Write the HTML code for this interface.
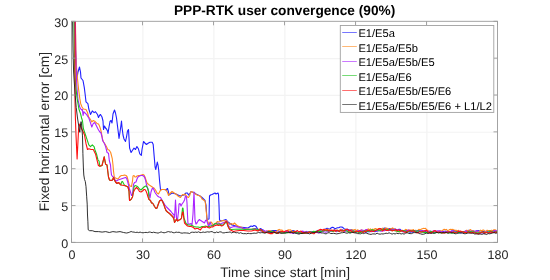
<!DOCTYPE html>
<html><head><meta charset="utf-8"><style>
html,body{margin:0;padding:0;background:#fff;}
svg{display:block;}
text{font-family:"Liberation Sans",Arial,sans-serif;text-rendering:geometricPrecision;}
</style></head><body>
<svg width="550" height="280" viewBox="0 0 550 280">
<rect x="0" y="0" width="550" height="280" fill="#ffffff"/>
<g stroke="#f3f3f3" stroke-width="1.2" fill="none">
<line x1="142.90" y1="21.3" x2="142.90" y2="242.4"/>
<line x1="213.90" y1="21.3" x2="213.90" y2="242.4"/>
<line x1="284.90" y1="21.3" x2="284.90" y2="242.4"/>
<line x1="355.90" y1="21.3" x2="355.90" y2="242.4"/>
<line x1="426.90" y1="21.3" x2="426.90" y2="242.4"/>
<line x1="71.5" y1="205.95" x2="497.5" y2="205.95"/>
<line x1="71.5" y1="169.10" x2="497.5" y2="169.10"/>
<line x1="71.5" y1="132.25" x2="497.5" y2="132.25"/>
<line x1="71.5" y1="95.40" x2="497.5" y2="95.40"/>
<line x1="71.5" y1="58.55" x2="497.5" y2="58.55"/>
</g>
<defs><clipPath id="ax"><rect x="71.5" y="21.3" width="426.0" height="221.1"/></clipPath></defs>
<g fill="none" stroke-width="1.1" stroke-linejoin="round" stroke-linecap="round" clip-path="url(#ax)">
<polyline stroke="#2020ff" points="74.5,21.0 75.5,50.0 76.5,70.0 77.0,78.0 78.0,72.0 79.5,67.0 80.5,72.0 81.0,78.0 83.0,80.5 84.3,87.6 85.2,94.8 86.0,101.9 87.9,103.7 88.8,109.0 90.5,114.4 92.3,110.9 94.1,112.6 95.5,111.7 97.5,114.5 98.5,117.5 99.5,115.5 100.5,114.5 102.0,117.0 103.0,121.0 103.5,129.5 104.5,126.0 105.5,128.0 106.5,129.0 107.5,131.0 108.0,133.5 109.0,127.0 110.0,121.5 111.0,120.5 112.0,123.0 113.0,114.0 114.5,110.0 115.5,113.0 116.5,118.0 117.5,126.0 118.5,134.0 119.0,138.5 120.0,132.0 121.0,125.0 121.5,121.0 122.0,127.0 123.0,135.0 124.0,139.0 125.5,141.5 126.5,137.0 127.5,131.0 128.5,129.5 129.6,148.1 131.1,152.5 132.5,150.3 134.0,148.1 135.5,149.5 136.9,146.6 138.4,148.8 139.8,153.9 141.3,155.4 142.0,149.5 143.5,141.5 144.9,143.0 146.4,144.5 148.5,143.0 150.0,142.3 152.2,142.3 153.2,144.5 154.1,155.4 155.1,167.0 155.8,169.5 156.5,166.0 157.3,162.0 158.0,165.0 158.7,170.0 159.5,180.0 160.0,185.0 160.5,189.8 161.5,189.5 164.5,189.5 166.0,190.0 167.0,189.0 167.5,188.5 168.5,192.0 169.0,195.0 172.0,193.0 176.0,194.0 180.0,196.0 184.0,195.0 186.0,193.0 187.5,193.0 188.5,195.0 190.0,193.5 191.0,191.5 192.0,192.0 194.0,192.5 196.0,194.0 198.0,195.0 200.0,196.0 202.0,197.5 203.5,199.0 205.0,200.5 206.0,205.0 207.0,219.5 209.0,219.0 209.5,196.0 210.5,195.0 212.0,194.5 214.0,193.5 215.0,193.0 216.0,194.0 217.0,193.5 218.0,193.0 218.5,194.5 219.0,205.0 219.5,220.0 221.0,221.0 223.0,220.5 226.0,219.5 228.0,222.0 232.0,225.0 240.0,227.0 248.0,228.0 251.0,226.0 252.5,226.5 254.0,225.5 255.5,226.0 256.5,227.0 257.5,229.0 259.0,230.5 260.5,228.5 262.0,229.5 265.0,231.5 269.0,231.5 273.0,230.5 277.0,230.5 281.0,232.0 285.0,232.0 289.0,232.0 293.0,230.5 297.0,232.0 301.0,232.5 305.0,232.0 306.3,231.4 307.6,232.3 308.9,232.7 310.2,232.0 311.5,232.0 312.8,231.9 314.1,232.1 315.4,232.4 316.7,231.2 318.0,230.4 319.3,231.2 320.6,230.9 321.9,231.3 323.2,230.1 324.5,229.2 325.8,229.1 327.1,228.2 328.4,228.9 329.7,229.3 331.0,228.0 332.3,227.2 333.6,227.6 334.9,228.6 336.2,228.2 337.5,227.7 338.8,227.7 340.1,227.0 341.4,227.0 342.7,227.4 344.0,228.7 345.3,229.1 346.6,229.3 347.9,229.4 349.2,230.0 350.5,230.0 351.8,229.6 353.1,230.8 354.4,231.1 355.7,231.4 357.0,230.8 358.3,231.9 359.6,232.3 360.9,231.2 362.2,230.9 363.5,231.4 364.8,231.6 366.1,232.2 367.4,231.5 368.7,231.8 370.0,231.6 371.3,230.9 372.6,230.9 373.9,231.4 375.2,231.6 376.5,231.1 377.8,231.0 379.1,229.2 380.4,228.5 381.7,229.1 383.0,228.7 384.3,228.1 385.6,228.3 386.9,228.8 388.2,229.0 389.5,228.6 390.8,228.5 392.1,228.6 393.4,229.1 394.7,229.0 396.0,229.4 397.3,229.9 398.6,229.4 399.9,229.2 401.2,230.3 402.5,231.6 403.8,231.6 405.1,231.2 406.4,230.6 407.7,230.9 409.0,231.9 410.3,232.1 411.6,231.8 412.9,232.2 414.2,231.3 415.5,231.3 416.8,232.1 418.1,231.9 419.4,231.5 420.7,231.0 422.0,231.2 423.3,232.1 424.6,230.9 425.9,231.7 427.2,232.2 428.5,232.7 429.8,232.7 431.1,232.9 432.4,232.5 433.7,232.3 435.0,232.0 436.3,231.1 437.6,232.1 438.9,232.1 440.2,231.4 441.5,231.6 442.8,231.6 444.1,231.4 445.4,231.3 446.7,231.6 448.0,231.9 449.3,232.1 450.6,231.9 451.9,231.0 453.2,230.8 454.5,230.6 455.8,231.3 457.1,232.1 458.4,232.5 459.7,232.8 461.0,233.0 462.3,232.1 463.6,232.6 464.9,232.6 466.2,231.5 467.5,230.8 468.8,230.3 470.1,231.4 471.4,231.1 472.7,230.7 474.0,231.3 475.3,231.2 476.6,230.7 477.9,230.5 479.2,231.1 480.5,230.8 481.8,230.8 483.1,231.6 484.4,231.6 485.7,231.3 487.0,231.5 488.3,230.8 489.6,231.0 490.9,231.2 492.2,230.9 493.5,230.5 494.8,231.8 496.1,231.8 497.0,231.3"/>
<polyline stroke="#ff8a1e" points="75.4,21.0 76.0,55.0 76.6,68.0 77.5,78.7 78.6,89.4 79.8,98.4 80.7,103.7 82.0,107.0 83.4,109.0 86.0,109.5 87.5,112.5 88.6,116.8 89.6,118.3 91.1,120.5 91.8,121.9 93.3,120.5 94.7,121.2 96.2,122.6 97.0,123.5 98.5,124.0 99.5,126.0 100.5,129.0 101.5,133.0 102.5,139.0 103.5,142.0 105.0,144.0 106.4,146.6 107.8,149.5 109.3,150.3 110.7,152.5 112.2,158.3 113.0,165.0 113.5,171.0 114.0,175.0 114.5,177.5 115.5,178.0 116.5,178.5 118.0,179.0 119.5,177.0 120.5,176.0 121.5,175.5 123.0,175.5 124.5,175.0 126.0,175.5 127.0,176.5 128.0,180.0 129.0,184.0 130.0,186.0 131.5,186.5 132.5,181.0 133.0,176.0 134.0,175.5 135.0,177.0 136.0,177.0 137.0,176.0 138.5,175.5 140.0,175.5 141.5,175.0 143.0,174.5 144.0,175.0 145.0,177.0 146.0,180.0 147.0,183.0 148.5,184.5 150.0,185.5 151.5,186.5 153.0,187.5 154.0,188.0 155.5,190.0 157.0,193.0 158.5,194.0 160.0,191.0 161.5,189.5 164.5,189.5 166.0,190.0 167.5,192.5 168.5,195.5 169.5,194.0 171.0,192.5 172.0,191.5 173.5,192.5 175.0,193.5 176.5,194.5 178.0,196.0 179.5,197.0 180.5,197.5 181.5,196.0 182.5,194.5 184.0,195.0 185.0,194.0 186.0,195.5 187.5,197.0 188.5,197.5 189.5,196.0 190.5,192.5 191.5,191.5 192.5,192.0 194.0,193.0 195.5,194.0 197.0,195.0 198.5,195.5 200.0,196.0 201.0,197.0 202.0,199.0 203.5,200.0 205.0,201.0 205.5,204.0 206.0,209.0 206.5,214.0 207.0,219.0 208.0,222.0 209.0,224.5 210.0,223.0 211.0,222.0 212.0,223.0 213.0,225.0 214.5,224.0 216.0,223.0 217.5,221.5 219.0,222.0 221.0,221.0 223.0,220.5 225.0,221.0 226.5,220.5 227.5,222.0 229.0,224.0 230.0,224.5 231.5,223.5 233.0,224.5 234.5,223.0 235.5,224.0 237.0,225.5 239.0,226.5 241.0,227.0 243.0,228.5 247.0,229.0 251.0,229.5 255.0,228.5 256.1,230.0 257.2,230.9 258.3,229.5 259.4,228.9 260.5,230.4 261.6,231.2 262.7,231.6 263.8,230.9 264.9,231.3 266.0,231.5 267.1,231.5 268.2,230.6 269.3,230.6 270.4,230.6 271.5,231.4 272.6,232.5 273.7,233.1 274.8,232.4 275.9,231.8 277.0,231.0 278.1,230.0 279.2,229.4 280.3,230.1 281.4,230.1 282.5,230.3 283.6,231.7 284.7,231.6 285.8,231.6 286.9,230.9 288.0,229.9 289.1,230.1 290.2,229.7 291.3,230.4 292.4,232.0 293.5,232.2 294.6,231.1 295.7,232.2 296.8,232.6 297.9,232.7 299.0,233.2 300.1,233.2 301.2,233.2 302.3,232.1 303.4,233.0 304.5,233.5 305.6,231.8 306.7,232.3 307.8,232.4 308.9,231.9 310.0,231.7 311.1,231.6 312.2,232.5 313.3,231.9 314.4,232.3 315.5,231.4 316.6,232.0 317.7,232.4 318.8,231.5 319.9,231.1 321.0,231.7 322.1,231.5 323.2,230.8 324.3,229.8 325.4,229.4 326.5,230.1 327.6,229.2 328.7,230.5 329.8,229.7 330.9,230.8 332.0,230.0 333.1,231.1 334.2,231.2 335.3,230.7 336.4,230.5 337.5,230.7 338.6,230.6 339.7,229.9 340.8,229.3 341.9,229.6 343.0,230.9 344.1,230.8 345.2,229.5 346.3,230.5 347.4,230.9 348.5,231.6 349.6,230.4 350.7,230.9 351.8,229.7 352.9,230.3 354.0,229.8 355.1,229.4 356.2,230.8 357.3,229.8 358.4,230.2 359.5,231.2 360.6,230.4 361.7,229.8 362.8,231.0 363.9,230.6 365.0,231.0 366.1,229.6 367.2,229.5 368.3,228.9 369.4,229.8 370.5,228.8 371.6,230.3 372.7,229.0 373.8,229.8 374.9,228.6 376.0,228.5 377.1,229.7 378.2,228.8 379.3,228.4 380.4,229.3 381.5,229.1 382.6,228.2 383.7,229.8 384.8,228.8 385.9,228.0 387.0,228.2 388.1,229.0 389.2,229.8 390.3,228.7 391.4,228.7 392.5,227.9 393.6,228.5 394.7,229.6 395.8,230.2 396.9,231.1 398.0,231.3 399.1,231.7 400.2,231.6 401.3,231.1 402.4,230.2 403.5,230.7 404.6,230.2 405.7,229.4 406.8,229.7 407.9,230.9 409.0,229.9 410.1,230.3 411.2,230.1 412.3,230.3 413.4,229.5 414.5,231.0 415.6,230.2 416.7,230.6 417.8,230.4 418.9,229.3 420.0,229.9 421.1,229.3 422.2,228.8 423.3,228.4 424.4,228.5 425.5,228.4 426.6,229.7 427.7,230.2 428.8,231.7 429.9,232.4 431.0,233.1 432.1,231.6 433.2,231.3 434.3,230.6 435.4,231.0 436.5,231.4 437.6,232.0 438.7,232.1 439.8,231.1 440.9,230.9 442.0,231.1 443.1,229.9 444.2,229.3 445.3,229.8 446.4,229.4 447.5,230.6 448.6,230.2 449.7,229.6 450.8,229.4 451.9,229.5 453.0,229.4 454.1,230.1 455.2,230.4 456.3,230.2 457.4,230.9 458.5,230.3 459.6,231.6 460.7,232.5 461.8,232.5 462.9,231.8 464.0,231.5 465.1,231.6 466.2,230.3 467.3,230.4 468.4,230.8 469.5,230.1 470.6,229.5 471.7,230.9 472.8,230.7 473.9,230.9 475.0,232.0 476.1,231.9 477.2,231.1 478.3,232.2 479.4,231.5 480.5,230.2 481.6,231.0 482.7,230.1 483.8,230.0 484.9,231.3 486.0,231.6 487.1,230.2 488.2,230.5 489.3,230.5 490.4,230.7 491.5,230.2 492.6,230.8 493.7,229.9 494.8,229.8 495.9,230.0 497.0,231.5"/>
<polyline stroke="#aa22ff" points="75.3,21.0 75.8,55.0 76.1,68.0 76.8,85.9 78.0,100.0 79.8,107.3 81.5,110.0 82.4,109.5 83.1,115.4 83.8,111.7 84.5,112.5 86.7,114.6 88.9,118.3 90.4,122.6 91.8,127.0 93.3,123.4 94.7,122.6 95.5,124.0 96.5,126.0 98.0,129.0 99.5,131.5 101.0,133.0 102.0,137.0 102.7,140.8 104.2,143.0 105.6,146.6 107.1,152.5 108.5,153.2 109.3,160.5 110.5,165.0 111.0,171.0 111.5,175.0 112.5,176.5 113.5,177.0 114.5,179.0 115.5,180.5 116.5,181.0 118.0,180.0 119.5,179.5 121.0,179.0 122.5,178.5 124.0,178.0 125.5,177.5 126.5,178.0 127.5,181.0 128.5,185.0 129.5,189.0 130.5,192.0 131.5,195.5 132.5,194.0 133.5,184.5 134.5,182.5 136.0,182.0 137.0,179.0 138.0,177.0 139.5,176.0 141.0,175.5 142.5,175.5 143.5,176.0 144.5,177.0 145.5,180.0 146.5,185.0 148.0,189.0 149.0,193.0 150.0,198.0 151.0,192.0 152.0,189.0 153.0,188.0 154.0,190.0 155.0,192.5 156.0,194.0 157.5,196.0 159.0,197.0 160.5,197.5 162.0,200.0 163.5,202.5 165.0,205.0 166.5,207.0 168.0,208.5 169.5,210.0 171.0,211.5 172.5,213.5 174.0,215.0 174.5,218.0 175.5,200.0 176.5,218.0 177.5,219.5 178.5,212.0 179.0,204.0 180.0,203.5 181.0,206.0 182.0,204.0 183.5,202.0 184.5,200.0 185.5,196.0 186.5,197.0 187.0,203.0 187.5,215.0 188.0,224.0 189.5,224.0 191.0,223.5 192.0,225.0 193.0,214.0 194.0,192.0 195.0,220.0 196.0,224.0 197.0,223.0 198.0,221.0 199.5,219.5 200.0,220.0 201.5,221.0 203.0,222.0 204.5,223.0 205.5,220.5 206.5,220.0 207.5,223.0 208.5,226.5 209.5,224.0 210.0,222.0 211.0,224.5 212.0,226.0 213.5,225.5 215.0,224.0 216.5,223.5 218.0,223.0 219.5,223.5 221.0,224.0 222.5,223.0 224.0,222.5 225.5,222.0 226.5,221.0 227.5,223.5 228.5,225.5 229.5,227.0 231.0,227.5 234.0,226.5 237.0,227.0 240.0,227.5 244.0,228.5 248.0,229.5 252.0,229.5 255.0,228.5 256.2,228.6 257.4,229.4 258.6,229.7 259.8,230.4 261.0,231.1 262.2,230.5 263.4,230.0 264.6,231.4 265.8,231.0 267.0,230.8 268.2,232.2 269.4,232.0 270.6,232.6 271.8,232.2 273.0,232.3 274.2,231.4 275.4,231.9 276.6,232.6 277.8,232.4 279.0,232.6 280.2,232.7 281.4,231.5 282.6,232.2 283.8,232.3 285.0,231.7 286.2,230.9 287.4,232.1 288.6,232.0 289.8,232.4 291.0,233.0 292.2,233.0 293.4,233.5 294.6,232.7 295.8,233.0 297.0,232.5 298.2,233.2 299.4,233.5 300.6,232.2 301.8,231.4 303.0,231.1 304.2,232.4 305.4,232.1 306.6,232.3 307.8,231.8 309.0,231.9 310.2,231.7 311.4,231.5 312.6,231.8 313.8,231.9 315.0,232.5 316.2,232.4 317.4,232.8 318.6,232.8 319.8,233.0 321.0,232.4 322.2,231.0 323.4,231.5 324.6,232.0 325.8,232.2 327.0,231.7 328.2,231.7 329.4,230.7 330.6,231.3 331.8,231.2 333.0,230.5 334.2,229.7 335.4,230.8 336.6,231.7 337.8,230.4 339.0,231.1 340.2,230.8 341.4,230.0 342.6,229.9 343.8,230.7 345.0,231.5 346.2,230.3 347.4,230.7 348.6,229.9 349.8,230.7 351.0,230.5 352.2,231.4 353.4,232.2 354.6,231.8 355.8,232.5 357.0,231.6 358.2,230.6 359.4,231.1 360.6,230.2 361.8,230.0 363.0,230.2 364.2,230.8 365.4,230.1 366.6,229.5 367.8,230.7 369.0,230.3 370.2,231.3 371.4,231.8 372.6,231.0 373.8,230.6 375.0,230.5 376.2,230.7 377.4,230.7 378.6,230.6 379.8,230.7 381.0,231.3 382.2,230.9 383.4,230.4 384.6,230.7 385.8,229.9 387.0,229.6 388.2,230.7 389.4,230.5 390.6,230.5 391.8,229.4 393.0,229.5 394.2,230.0 395.4,229.2 396.6,229.9 397.8,230.5 399.0,229.7 400.2,230.4 401.4,230.6 402.6,231.2 403.8,230.8 405.0,231.4 406.2,231.7 407.4,230.5 408.6,229.9 409.8,230.7 411.0,231.8 412.2,231.0 413.4,231.0 414.6,231.2 415.8,230.8 417.0,230.6 418.2,230.5 419.4,230.5 420.6,230.9 421.8,230.6 423.0,230.6 424.2,231.4 425.4,230.5 426.6,231.0 427.8,231.7 429.0,231.2 430.2,230.8 431.4,231.8 432.6,231.2 433.8,230.8 435.0,231.0 436.2,231.7 437.4,230.9 438.6,230.9 439.8,230.9 441.0,231.9 442.2,231.7 443.4,232.4 444.6,231.5 445.8,231.2 447.0,231.7 448.2,232.5 449.4,232.1 450.6,231.4 451.8,230.7 453.0,231.2 454.2,230.8 455.4,231.8 456.6,232.4 457.8,231.5 459.0,231.1 460.2,232.0 461.4,232.1 462.6,232.6 463.8,231.9 465.0,231.1 466.2,230.9 467.4,231.8 468.6,231.3 469.8,231.2 471.0,231.2 472.2,231.2 473.4,231.2 474.6,232.3 475.8,231.4 477.0,230.5 478.2,231.9 479.4,232.6 480.6,233.2 481.8,232.5 483.0,233.1 484.2,233.4 485.4,232.1 486.6,232.5 487.8,232.8 489.0,232.7 490.2,232.3 491.4,231.7 492.6,231.4 493.8,231.0 495.0,230.4 496.2,231.1 497.0,230.9"/>
<polyline stroke="#1fc41f" points="74.0,21.0 74.5,68.0 75.7,85.9 77.1,98.4 78.9,109.0 80.7,114.4 81.6,118.0 82.5,121.0 83.4,128.7 85.2,134.0 87.0,139.4 88.8,144.8 90.5,146.6 92.3,144.8 94.1,146.6 95.0,150.0 96.5,154.0 98.0,160.0 99.1,161.2 99.8,166.3 102.0,165.5 104.2,156.8 105.6,164.1 107.0,165.0 108.5,177.0 109.5,180.0 111.0,180.5 112.5,180.0 113.5,177.5 114.5,180.0 115.5,182.0 117.0,183.5 118.5,182.5 119.5,183.5 121.0,185.0 121.5,182.0 122.5,181.5 123.5,183.5 124.5,185.2 126.0,186.0 128.0,187.0 129.0,191.0 129.5,200.5 131.0,199.5 132.5,197.0 134.0,187.0 135.0,185.5 136.5,186.0 138.0,187.0 139.5,189.0 141.0,190.0 142.5,188.5 144.0,187.0 145.5,186.0 146.5,186.5 147.5,188.0 148.5,191.5 149.0,199.5 150.5,200.5 151.5,203.0 152.5,203.0 153.5,204.5 154.5,206.5 156.0,208.5 157.0,208.0 158.0,205.0 159.5,201.0 161.0,200.0 162.0,200.5 163.0,202.5 164.0,205.0 165.0,208.0 166.0,210.5 167.5,212.0 169.5,213.5 171.5,215.5 173.0,217.0 174.0,219.5 174.5,222.5 175.5,221.0 176.5,219.0 177.5,221.0 179.0,220.0 180.5,219.5 181.5,218.0 182.5,208.0 183.0,208.0 184.0,218.0 186.0,223.5 188.0,225.0 190.0,225.0 192.0,225.5 194.0,226.5 196.0,227.0 198.0,227.0 200.0,227.5 202.0,226.5 204.0,226.5 205.5,226.0 207.0,226.5 208.5,227.0 210.0,226.0 211.5,226.0 213.0,225.5 214.5,224.0 216.0,223.5 217.5,224.5 219.0,224.0 220.5,224.5 222.0,225.5 223.5,224.5 225.0,223.0 226.5,222.0 227.5,225.0 229.0,228.0 231.0,229.5 235.0,229.3 240.0,229.0 245.0,229.5 250.0,229.2 255.0,229.0 256.2,229.2 257.4,229.3 258.6,229.9 259.8,230.0 261.0,230.1 262.2,230.8 263.4,231.9 264.6,232.4 265.8,232.7 267.0,232.1 268.2,232.2 269.4,231.9 270.6,231.5 271.8,231.2 273.0,231.2 274.2,232.2 275.4,232.7 276.6,232.9 277.8,233.1 279.0,232.3 280.2,232.1 281.4,232.3 282.6,232.7 283.8,233.0 285.0,233.3 286.2,232.3 287.4,232.5 288.6,232.7 289.8,232.6 291.0,232.1 292.2,232.2 293.4,231.7 294.6,232.6 295.8,233.1 297.0,232.9 298.2,232.4 299.4,233.0 300.6,232.9 301.8,233.3 303.0,233.4 304.2,233.0 305.4,232.7 306.6,232.7 307.8,232.5 309.0,231.9 310.2,231.8 311.4,232.5 312.6,231.7 313.8,231.2 315.0,231.7 316.2,231.4 317.4,231.5 318.6,231.4 319.8,231.1 321.0,231.8 322.2,231.0 323.4,230.8 324.6,230.5 325.8,230.8 327.0,230.6 328.2,230.5 329.4,231.0 330.6,230.8 331.8,230.9 333.0,231.5 334.2,230.8 335.4,230.2 336.6,230.2 337.8,230.9 339.0,231.1 340.2,230.7 341.4,230.6 342.6,230.4 343.8,230.6 345.0,230.2 346.2,230.8 347.4,231.5 348.6,232.1 349.8,232.1 351.0,232.4 352.2,231.3 353.4,231.1 354.6,231.9 355.8,232.1 357.0,231.8 358.2,232.3 359.4,232.2 360.6,232.5 361.8,231.8 363.0,231.2 364.2,231.2 365.4,230.7 366.6,230.8 367.8,231.5 369.0,231.1 370.2,230.3 371.4,229.9 372.6,229.8 373.8,230.6 375.0,230.4 376.2,230.2 377.4,229.8 378.6,230.8 379.8,230.6 381.0,230.2 382.2,229.7 383.4,229.4 384.6,229.3 385.8,230.0 387.0,229.7 388.2,229.4 389.4,229.8 390.6,229.7 391.8,230.8 393.0,230.2 394.2,230.4 395.4,230.9 396.6,230.8 397.8,231.6 399.0,231.4 400.2,231.0 401.4,231.0 402.6,230.6 403.8,230.8 405.0,230.7 406.2,231.6 407.4,232.0 408.6,231.8 409.8,231.0 411.0,230.9 412.2,230.8 413.4,230.6 414.6,230.6 415.8,231.5 417.0,231.0 418.2,230.6 419.4,231.5 420.6,231.6 421.8,232.3 423.0,231.9 424.2,232.4 425.4,232.4 426.6,232.6 427.8,232.6 429.0,232.4 430.2,231.6 431.4,231.4 432.6,232.2 433.8,232.7 435.0,233.1 436.2,232.5 437.4,232.5 438.6,232.8 439.8,232.7 441.0,232.9 442.2,232.6 443.4,232.6 444.6,232.7 445.8,232.1 447.0,232.7 448.2,233.1 449.4,232.1 450.6,232.8 451.8,233.1 453.0,233.0 454.2,232.0 455.4,232.6 456.6,231.9 457.8,232.6 459.0,232.6 460.2,231.8 461.4,231.5 462.6,231.9 463.8,232.1 465.0,232.4 466.2,232.9 467.4,232.2 468.6,231.5 469.8,232.3 471.0,231.5 472.2,232.3 473.4,231.7 474.6,232.3 475.8,232.6 477.0,232.9 478.2,232.7 479.4,233.0 480.6,232.2 481.8,232.4 483.0,232.0 484.2,232.6 485.4,232.8 486.6,232.5 487.8,232.4 489.0,231.6 490.2,231.1 491.4,231.7 492.6,231.8 493.8,232.4 495.0,232.5 496.2,231.8 497.0,231.7"/>
<polyline stroke="#ff1010" points="75.1,21.0 75.0,68.0 75.0,100.0 75.4,118.0 76.0,135.0 77.1,159.0 78.6,128.7 79.8,124.0 81.6,128.7 83.4,132.3 84.5,135.0 86.0,143.7 87.5,149.5 88.9,148.8 91.1,149.5 93.3,149.5 95.5,153.9 96.9,159.7 98.4,165.5 99.8,166.3 102.0,165.5 104.2,156.8 105.6,164.1 107.0,165.0 108.5,177.0 109.5,180.0 111.0,180.5 112.5,180.0 113.5,177.5 114.5,180.0 115.5,182.0 117.0,183.5 118.5,182.5 119.5,183.5 121.0,185.0 124.0,185.5 126.0,186.0 128.0,187.0 129.0,191.0 129.5,200.5 131.0,199.5 132.5,197.0 133.5,192.0 135.0,189.0 136.5,187.5 138.0,189.0 139.5,191.5 141.0,192.0 142.5,191.0 144.0,189.5 145.0,189.5 146.0,191.0 147.0,193.5 148.0,197.0 149.0,199.5 150.5,200.5 151.5,203.0 152.5,203.0 153.5,204.5 154.5,206.5 156.0,208.5 157.0,208.0 158.0,205.0 159.5,201.0 161.0,200.0 162.0,200.5 163.0,202.5 164.0,205.0 165.0,208.0 166.0,210.5 167.5,212.0 169.5,213.5 171.5,215.5 173.0,217.0 174.0,219.5 174.5,222.5 175.5,221.0 176.5,219.0 177.5,221.0 179.0,220.0 180.5,219.5 181.5,218.0 182.5,212.0 183.0,212.0 184.0,220.0 184.5,223.0 186.0,224.5 187.5,226.0 189.5,226.5 191.0,226.5 192.5,227.0 194.0,228.0 195.0,229.0 196.5,228.5 198.0,228.5 199.5,229.5 200.5,230.0 201.5,228.0 203.5,227.0 205.0,227.5 206.5,226.5 208.0,227.5 209.5,228.0 211.0,227.0 212.5,227.0 214.0,226.0 215.5,225.5 217.0,225.0 218.5,225.5 220.0,225.0 221.5,226.0 223.0,225.5 224.5,223.5 226.0,221.5 227.0,222.0 228.0,226.5 229.5,229.5 231.5,230.5 233.5,231.5 235.5,231.0 239.5,230.5 243.5,230.5 247.5,231.0 251.5,231.0 255.0,230.0 258.0,231.0 260.0,229.5 261.5,230.0 263.0,232.0 265.0,232.5 266.2,232.5 267.4,232.8 268.6,233.1 269.8,233.6 271.0,233.4 272.2,233.7 273.4,232.0 274.6,231.9 275.8,232.9 277.0,232.8 278.2,233.4 279.4,232.0 280.6,231.9 281.8,231.4 283.0,231.7 284.2,232.0 285.4,231.0 286.6,230.8 287.8,230.8 289.0,232.2 290.2,232.8 291.4,231.8 292.6,232.6 293.8,231.6 295.0,232.1 296.2,231.3 297.4,230.5 298.6,232.0 299.8,231.5 301.0,231.1 302.2,232.6 303.4,233.2 304.6,232.3 305.8,233.3 307.0,232.9 308.2,232.9 309.4,231.9 310.6,232.9 311.8,233.0 313.0,233.6 314.2,233.7 315.4,232.4 316.6,231.7 317.8,230.7 319.0,230.1 320.2,229.4 321.4,229.5 322.6,230.2 323.8,229.3 325.0,230.2 326.2,230.0 327.4,229.8 328.6,230.9 329.8,230.7 331.0,230.3 332.2,230.4 333.4,231.0 334.6,229.9 335.8,231.3 337.0,230.0 338.2,230.8 339.4,231.6 340.6,230.2 341.8,231.1 343.0,230.7 344.2,230.9 345.4,229.8 346.6,229.2 347.8,229.2 349.0,230.9 350.2,230.3 351.4,231.2 352.6,232.1 353.8,232.7 355.0,231.7 356.2,231.2 357.4,231.3 358.6,231.9 359.8,230.9 361.0,231.6 362.2,232.1 363.4,232.5 364.6,230.9 365.8,231.9 367.0,230.6 368.2,230.3 369.4,230.7 370.6,231.6 371.8,230.8 373.0,231.6 374.2,231.2 375.4,230.5 376.6,230.0 377.8,229.4 379.0,228.8 380.2,228.6 381.4,229.7 382.6,231.0 383.8,229.9 385.0,229.0 386.2,230.5 387.4,230.4 388.6,230.1 389.8,229.6 391.0,230.0 392.2,230.9 393.4,230.5 394.6,230.3 395.8,229.4 397.0,230.8 398.2,229.8 399.4,230.2 400.6,231.3 401.8,230.4 403.0,231.2 404.2,232.2 405.4,232.1 406.6,232.4 407.8,231.0 409.0,231.0 410.2,230.3 411.4,231.4 412.6,230.9 413.8,230.9 415.0,232.1 416.2,232.5 417.4,233.0 418.6,232.2 419.8,231.8 421.0,232.1 422.2,231.7 423.4,231.1 424.6,231.0 425.8,230.4 427.0,230.6 428.2,232.1 429.4,232.9 430.6,232.7 431.8,232.4 433.0,231.8 434.2,230.9 435.4,230.7 436.6,231.8 437.8,232.6 439.0,232.0 440.2,232.5 441.4,232.8 442.6,232.9 443.8,232.8 445.0,233.0 446.2,232.2 447.4,232.5 448.6,231.7 449.8,231.7 451.0,232.4 452.2,232.5 453.4,231.8 454.6,232.8 455.8,232.7 457.0,232.5 458.2,231.2 459.4,231.5 460.6,231.1 461.8,231.7 463.0,231.7 464.2,232.4 465.4,232.5 466.6,232.9 467.8,232.1 469.0,232.3 470.2,232.6 471.4,233.0 472.6,232.2 473.8,232.8 475.0,233.2 476.2,233.1 477.4,233.6 478.6,233.9 479.8,233.1 481.0,232.6 482.2,231.6 483.4,232.4 484.6,233.1 485.8,232.5 487.0,232.7 488.2,232.8 489.4,232.9 490.6,231.7 491.8,232.4 493.0,232.3 494.2,232.5 495.4,232.0 496.6,232.2 497.0,232.7"/>
<polyline stroke="#1a1a1a" points="72.6,21.0 73.0,50.0 73.6,72.0 75.0,93.0 76.2,107.3 77.5,118.0 78.9,127.0 79.8,132.3 80.4,125.0 81.1,121.6 81.6,125.0 82.5,135.9 82.9,153.7 83.4,168.0 83.8,175.0 84.5,179.4 85.3,181.5 86.0,186.6 86.7,196.8 87.2,204.1 87.5,215.0 87.9,221.8 88.2,229.8 89.6,230.7 92.3,230.7 95.0,231.6 98.6,231.6 102.1,232.1 105.7,231.6 109.3,232.5 112.9,231.6 116.4,232.1 120.0,231.6 123.6,232.5 125.1,232.8 126.6,233.0 128.1,232.7 129.6,232.2 131.1,231.5 132.6,232.0 134.1,232.1 135.6,232.5 137.1,232.2 138.6,232.6 140.1,232.1 141.6,232.6 143.1,232.8 144.6,232.5 146.1,232.4 147.6,232.6 149.1,232.0 150.6,232.2 152.1,232.7 153.6,232.2 155.1,232.6 156.6,232.8 158.1,233.1 159.6,232.5 161.1,231.9 162.6,232.5 164.1,232.8 165.6,232.5 167.1,231.9 168.6,231.6 170.1,232.1 171.6,231.9 173.1,232.7 174.6,232.7 176.1,232.1 177.6,232.4 179.1,232.2 180.6,232.9 182.1,233.2 183.6,232.9 185.1,232.9 186.6,233.0 188.1,233.1 189.6,233.5 191.1,232.4 192.6,232.2 194.1,232.4 195.6,232.1 197.1,232.4 198.6,231.8 200.1,232.6 201.6,232.5 203.1,232.0 204.6,232.4 206.1,232.1 207.6,231.8 209.1,232.1 210.6,231.7 212.1,231.6 213.6,232.5 215.1,232.8 216.6,232.0 218.1,232.6 219.6,231.9 221.1,231.9 222.6,232.8 224.1,232.9 225.6,232.5 227.1,232.4 228.6,232.3 230.1,231.9 231.6,232.9 233.1,232.2 234.6,232.3 236.1,232.8 237.6,232.6 239.1,233.3 240.6,232.7 242.1,233.4 243.6,233.7 245.1,233.6 246.6,233.8 248.1,233.3 249.6,233.6 251.1,233.7 252.6,233.4 254.1,233.1 255.6,233.3 257.1,233.0 258.6,232.4 260.1,232.9 261.6,232.6 263.1,232.7 264.6,233.2 266.1,232.6 267.6,232.1 269.1,231.9 270.6,232.4 272.1,232.4 273.6,232.3 275.1,232.5 276.6,233.3 278.1,232.8 279.6,232.8 281.1,233.4 282.6,233.4 284.1,232.9 285.6,232.9 287.1,232.9 288.6,232.4 290.1,232.5 291.6,232.4 293.1,233.1 294.6,232.8 296.1,233.1 297.6,233.8 299.1,234.1 300.6,233.5 302.1,233.5 303.6,233.0 305.1,232.9 306.6,233.0 308.1,233.4 309.6,233.9 311.1,233.3 312.6,232.5 314.1,232.7 315.6,232.2 317.1,231.9 318.6,232.8 320.1,232.4 321.6,233.0 323.1,232.9 324.6,233.6 326.1,233.9 327.6,233.0 329.1,232.6 330.6,233.5 332.1,233.5 333.6,233.3 335.1,233.6 336.6,233.9 338.1,233.6 339.6,233.4 341.1,232.8 342.6,232.7 344.1,232.4 345.6,232.9 347.1,233.2 348.6,232.7 350.1,233.1 351.6,232.6 353.1,232.3 354.6,232.9 356.1,233.0 357.6,233.6 359.1,233.7 360.6,233.8 362.1,233.0 363.6,233.6 365.1,232.9 366.6,233.2 368.1,233.8 369.6,234.2 371.1,234.4 372.6,233.9 374.1,233.9 375.6,234.1 377.1,233.2 378.6,233.9 380.1,234.2 381.6,233.8 383.1,234.0 384.6,233.6 386.1,233.2 387.6,233.5 389.1,232.8 390.6,233.5 392.1,234.1 393.6,233.5 395.1,234.0 396.6,233.2 398.1,233.7 399.6,233.3 401.1,234.0 402.6,233.6 404.1,234.1 405.6,233.2 407.1,232.7 408.6,233.4 410.1,233.6 411.6,233.6 413.1,232.8 414.6,232.6 416.1,232.7 417.6,232.4 419.1,233.5 420.6,233.8 422.1,234.3 423.6,234.2 425.1,233.7 426.6,233.0 428.1,233.5 429.6,232.9 431.1,233.2 432.6,233.2 434.1,233.3 435.6,232.8 437.1,232.4 438.6,232.9 440.1,232.4 441.6,232.9 443.1,232.6 444.6,232.7 446.1,232.5 447.6,233.0 449.1,233.0 450.6,232.8 452.1,232.7 453.6,233.1 455.1,233.8 456.6,233.6 458.1,233.1 459.6,233.0 461.1,232.8 462.6,233.2 464.1,233.7 465.6,233.7 467.1,233.2 468.6,233.1 470.1,233.1 471.6,233.2 473.1,233.2 474.6,234.0 476.1,233.9 477.6,234.0 479.1,234.1 480.6,234.1 482.1,234.3 483.6,233.8 485.1,234.0 486.6,234.5 488.1,233.6 489.6,233.8 491.1,233.5 492.6,233.0 494.1,232.6 495.6,233.3 497.0,232.9" stroke-width="0.9"/>
</g>
<rect x="71.5" y="21.3" width="426.0" height="221.1" fill="none" stroke="#9a9a9a" stroke-width="0.9"/>
<g stroke="#9a9a9a" stroke-width="0.9">
<line x1="71.50" y1="242.4" x2="71.50" y2="238.4"/>
<line x1="71.50" y1="21.3" x2="71.50" y2="25.3"/>
<line x1="142.50" y1="242.4" x2="142.50" y2="238.4"/>
<line x1="142.50" y1="21.3" x2="142.50" y2="25.3"/>
<line x1="213.50" y1="242.4" x2="213.50" y2="238.4"/>
<line x1="213.50" y1="21.3" x2="213.50" y2="25.3"/>
<line x1="284.50" y1="242.4" x2="284.50" y2="238.4"/>
<line x1="284.50" y1="21.3" x2="284.50" y2="25.3"/>
<line x1="355.50" y1="242.4" x2="355.50" y2="238.4"/>
<line x1="355.50" y1="21.3" x2="355.50" y2="25.3"/>
<line x1="426.50" y1="242.4" x2="426.50" y2="238.4"/>
<line x1="426.50" y1="21.3" x2="426.50" y2="25.3"/>
<line x1="497.50" y1="242.4" x2="497.50" y2="238.4"/>
<line x1="497.50" y1="21.3" x2="497.50" y2="25.3"/>
<line x1="71.5" y1="242.40" x2="75.5" y2="242.40"/>
<line x1="497.5" y1="242.40" x2="493.5" y2="242.40"/>
<line x1="71.5" y1="205.55" x2="75.5" y2="205.55"/>
<line x1="497.5" y1="205.55" x2="493.5" y2="205.55"/>
<line x1="71.5" y1="168.70" x2="75.5" y2="168.70"/>
<line x1="497.5" y1="168.70" x2="493.5" y2="168.70"/>
<line x1="71.5" y1="131.85" x2="75.5" y2="131.85"/>
<line x1="497.5" y1="131.85" x2="493.5" y2="131.85"/>
<line x1="71.5" y1="95.00" x2="75.5" y2="95.00"/>
<line x1="497.5" y1="95.00" x2="493.5" y2="95.00"/>
<line x1="71.5" y1="58.15" x2="75.5" y2="58.15"/>
<line x1="497.5" y1="58.15" x2="493.5" y2="58.15"/>
<line x1="71.5" y1="21.30" x2="75.5" y2="21.30"/>
<line x1="497.5" y1="21.30" x2="493.5" y2="21.30"/>
</g>
<g font-size="12.5" fill="#262626">
<text x="71.95" y="259.3" text-anchor="middle">0</text>
<text x="142.95" y="259.3" text-anchor="middle">30</text>
<text x="213.95" y="259.3" text-anchor="middle">60</text>
<text x="284.95" y="259.3" text-anchor="middle">90</text>
<text x="355.95" y="259.3" text-anchor="middle">120</text>
<text x="426.95" y="259.3" text-anchor="middle">150</text>
<text x="497.95" y="259.3" text-anchor="middle">180</text>
<text x="68.1" y="247.80" text-anchor="end">0</text>
<text x="68.1" y="210.95" text-anchor="end">5</text>
<text x="68.1" y="174.10" text-anchor="end">10</text>
<text x="68.1" y="137.25" text-anchor="end">15</text>
<text x="68.1" y="100.40" text-anchor="end">20</text>
<text x="68.1" y="63.55" text-anchor="end">25</text>
<text x="68.1" y="26.70" text-anchor="end">30</text>
</g>
<text x="285.1" y="276.6" font-size="13.72" fill="#262626" text-anchor="middle">Time since start [min]</text>
<text transform="translate(48.6,131.6) rotate(-90)" font-size="13.72" fill="#262626" text-anchor="middle">Fixed horizontal error [cm]</text>
<text x="284.6" y="14.7" font-size="13.7" font-weight="bold" fill="#000" text-anchor="middle">PPP-RTK user convergence (90%)</text>
<rect x="340.3" y="25.5" width="153.5" height="86.9" fill="#ffffff" stroke="#a0a0a0" stroke-width="0.9"/>
<g font-size="11.15" fill="#000">
<line x1="342.2" y1="32.50" x2="356.8" y2="32.50" stroke="#2020ff" stroke-width="0.85" stroke-opacity="0.72"/>
<text x="358.4" y="37.40">E1/E5a</text>
<line x1="342.2" y1="46.50" x2="356.8" y2="46.50" stroke="#ff8a1e" stroke-width="0.85" stroke-opacity="0.72"/>
<text x="358.4" y="51.88">E1/E5a/E5b</text>
<line x1="342.2" y1="61.50" x2="356.8" y2="61.50" stroke="#aa22ff" stroke-width="0.85" stroke-opacity="0.72"/>
<text x="358.4" y="66.36">E1/E5a/E5b/E5</text>
<line x1="342.2" y1="75.50" x2="356.8" y2="75.50" stroke="#1fc41f" stroke-width="0.85" stroke-opacity="0.72"/>
<text x="358.4" y="80.84">E1/E5a/E6</text>
<line x1="342.2" y1="90.50" x2="356.8" y2="90.50" stroke="#ff1010" stroke-width="0.85" stroke-opacity="0.72"/>
<text x="358.4" y="95.32">E1/E5a/E5b/E5/E6</text>
<line x1="342.2" y1="104.50" x2="356.8" y2="104.50" stroke="#1a1a1a" stroke-width="0.85" stroke-opacity="0.72"/>
<text x="358.4" y="109.80">E1/E5a/E5b/E5/E6 + L1/L2</text>
</g>
</svg>
</body></html>
